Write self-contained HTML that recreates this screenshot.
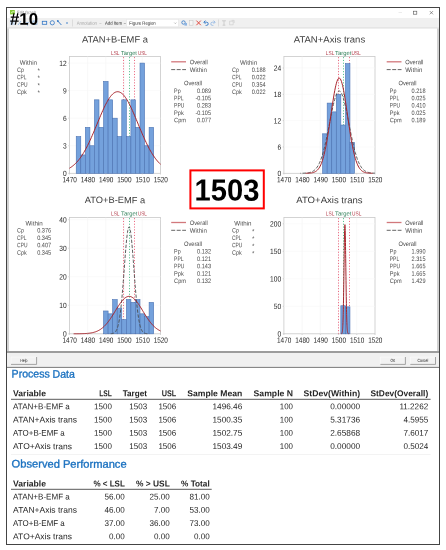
<!DOCTYPE html>
<html lang="en"><head><meta charset="utf-8"><title>#10 Edit Graph</title>
<style>html,body{margin:0;padding:0;background:#fff;}body{width:446px;height:550px;overflow:hidden;}svg{display:block;}</style>
</head><body>
<svg width="446" height="550" viewBox="0 0 446 550" text-rendering="geometricPrecision" font-family='"Liberation Sans", sans-serif'>
<rect width="446" height="550" fill="#ffffff"/>
<rect x="6.5" y="7.5" width="433" height="537" fill="#ffffff" stroke="#444444" stroke-width="1"/>
<rect x="7" y="18" width="432" height="10" fill="#f0f0f0"/>
<rect x="7" y="27.6" width="432" height="0.8" fill="#d4d4d4"/>
<rect x="7" y="28.4" width="2" height="323" fill="#d2d2d2"/>
<rect x="437" y="28.4" width="2" height="323" fill="#d2d2d2"/>
<rect x="7" y="351" width="432" height="2.0" fill="#9c9c9c"/>
<rect x="7" y="353" width="432" height="14.2" fill="#f0f0f0"/>
<rect x="7" y="366.9" width="432" height="0.9" fill="#6a6a6a"/>
<rect x="10" y="10" width="4.8" height="4.4" fill="#86cc35"/>
<path d="M11 13.2 L12.2 11.6 L13 12.4 L14 11" stroke="#e4f6cf" stroke-width="0.7" fill="none"/>
<text x="17.00" y="14.30" transform="rotate(0.05 17.0 14.3)" font-size="5" textLength="19.20" lengthAdjust="spacingAndGlyphs" fill="#8c8c8c">Edit Graph</text>
<rect x="398.5" y="12.3" width="3.5" height="0.5" fill="#d8d8d8"/>
<rect x="413.6" y="11.2" width="3.2" height="3" fill="none" stroke="#555" stroke-width="0.6"/>
<path d="M429.8 11.1 L433 14.3 M433 11.1 L429.8 14.3" stroke="#555" stroke-width="0.6" fill="none"/>
<rect x="10" y="20" width="4.6" height="5" fill="#cfe0f4"/>
<path d="M18 25 L21 21" stroke="#7aa7d8" stroke-width="0.7"/>
<text x="26" y="25.5" font-size="5" fill="#7aa7d8">T</text>
<rect x="33" y="21" width="4" height="3.6" fill="none" stroke="#7aa7d8" stroke-width="0.7"/>
<rect x="42.3" y="21.3" width="4.4" height="3" fill="none" stroke="#2f75c5" stroke-width="0.8"/>
<circle cx="52.3" cy="22.8" r="2.1" fill="none" stroke="#2f75c5" stroke-width="0.8"/>
<path d="M57.6 20.8 L61.4 25" stroke="#2f75c5" stroke-width="0.9"/>
<rect x="57" y="20.2" width="1.6" height="1.6" fill="#2f75c5"/>
<circle cx="67" cy="23" r="0.8" fill="#2f75c5"/>
<rect x="72.2" y="19.5" width="0.6" height="7" fill="#cfcfcf"/>
<text x="76.80" y="24.70" transform="rotate(0.05 76.8 24.7)" font-size="4.9" textLength="20.10" lengthAdjust="spacingAndGlyphs" fill="#a4a4a4">Annotation</text>
<path d="M99.4 23 l1 1 l1 -1" stroke="#a0a0a0" stroke-width="0.4" fill="none"/>
<text x="105.00" y="24.70" transform="rotate(0.05 105.0 24.7)" font-size="4.9" textLength="17.00" lengthAdjust="spacingAndGlyphs" fill="#262626">Add Item</text>
<path d="M123.8 23 l1 1 l1 -1" stroke="#555" stroke-width="0.4" fill="none"/>
<rect x="126.8" y="19.4" width="51.4" height="7.4" fill="#ffffff" stroke="#e2e2e2" stroke-width="0.4"/>
<text x="129.30" y="24.70" transform="rotate(0.05 129.3 24.7)" font-size="4.9" textLength="26.40" lengthAdjust="spacingAndGlyphs" fill="#262626">Figure Region</text>
<path d="M174.3 22.6 l1 1 l1 -1" stroke="#555" stroke-width="0.4" fill="none"/>
<circle cx="183.5" cy="22.5" r="1.7" fill="none" stroke="#2f75c5" stroke-width="0.8"/>
<rect x="184.4" y="23" width="2.6" height="2.6" fill="#8db4e2"/>
<rect x="189.6" y="20.4" width="3.4" height="4.8" fill="#f6f6f6" stroke="#c4c4c4" stroke-width="0.5"/>
<path d="M196.4 20.6 L200.8 25.2 M200.8 20.6 L196.4 25.2" stroke="#e03c31" stroke-width="0.9" fill="none"/>
<path d="M204.2 22.2 h2.4 a1.6 1.6 0 0 1 0 3.2 h-1" stroke="#2f75c5" stroke-width="0.9" fill="none"/>
<path d="M205.4 20.6 l-1.6 1.6 l1.6 1.6" stroke="#2f75c5" stroke-width="0.9" fill="none"/>
<path d="M214.8 22.2 h-2.4 a1.6 1.6 0 0 0 0 3.2 h1" stroke="#8db4e2" stroke-width="0.8" fill="none"/>
<path d="M213.6 20.6 l1.6 1.6 l-1.6 1.6" stroke="#8db4e2" stroke-width="0.8" fill="none"/>
<rect x="218.3" y="19.5" width="0.6" height="7" fill="#cfcfcf"/>
<path d="M222 20.8 h4 M224 20.8 v4.4 M222.6 25.2 h2.8" stroke="#b8b8b8" stroke-width="0.6" fill="none"/>
<path d="M229.6 21.2 h3.6 v3.6 h-3.6 z M231.6 20.4 h2.6 v2.6" stroke="#c4c4c4" stroke-width="0.5" fill="none"/>
<text x="10.00" y="24.80" transform="rotate(0.05 10.0 24.8)" font-size="16.8" font-weight="bold" textLength="28.00" lengthAdjust="spacingAndGlyphs" fill="#000000">#10</text>
<g>
<text x="81.95" y="42.40" transform="rotate(0.05 82.0 42.4)" font-size="9.2" textLength="66.00" lengthAdjust="spacingAndGlyphs" fill="#3a3a3a">ATAN+B-EMF a</text>
<rect x="69.40" y="56.50" width="91.10" height="116.80" fill="#ffffff" stroke="#c9c9c9" stroke-width="0.8"/>
<line x1="87.62" y1="56.50" x2="87.62" y2="173.30" stroke="#f4f4f4" stroke-width="0.6"/>
<line x1="105.84" y1="56.50" x2="105.84" y2="173.30" stroke="#f4f4f4" stroke-width="0.6"/>
<line x1="124.06" y1="56.50" x2="124.06" y2="173.30" stroke="#f4f4f4" stroke-width="0.6"/>
<line x1="142.28" y1="56.50" x2="142.28" y2="173.30" stroke="#f4f4f4" stroke-width="0.6"/>
<line x1="69.40" y1="145.75" x2="160.50" y2="145.75" stroke="#f6f6f6" stroke-width="0.6"/>
<line x1="69.40" y1="118.20" x2="160.50" y2="118.20" stroke="#f6f6f6" stroke-width="0.6"/>
<line x1="69.40" y1="90.65" x2="160.50" y2="90.65" stroke="#f6f6f6" stroke-width="0.6"/>
<line x1="69.40" y1="63.10" x2="160.50" y2="63.10" stroke="#f6f6f6" stroke-width="0.6"/>
<line x1="123.50" y1="57.10" x2="123.50" y2="173.30" stroke="#ec6a82" stroke-width="1" stroke-dasharray="1.1 1.7"/>
<line x1="129.50" y1="57.10" x2="129.50" y2="173.30" stroke="#55c08c" stroke-width="1" stroke-dasharray="1.1 1.7"/>
<line x1="134.50" y1="57.10" x2="134.50" y2="173.30" stroke="#ec6a82" stroke-width="1" stroke-dasharray="1.1 1.7"/>
<rect x="76.23" y="136.57" width="4.55" height="36.73" fill="#74a1dc" stroke="#4b72b2" stroke-width="0.6"/>
<rect x="80.79" y="154.93" width="4.55" height="18.37" fill="#74a1dc" stroke="#4b72b2" stroke-width="0.6"/>
<rect x="85.34" y="127.38" width="4.55" height="45.92" fill="#74a1dc" stroke="#4b72b2" stroke-width="0.6"/>
<rect x="89.90" y="145.75" width="4.55" height="27.55" fill="#74a1dc" stroke="#4b72b2" stroke-width="0.6"/>
<rect x="94.45" y="99.83" width="4.55" height="73.47" fill="#74a1dc" stroke="#4b72b2" stroke-width="0.6"/>
<rect x="99.01" y="127.38" width="4.55" height="45.92" fill="#74a1dc" stroke="#4b72b2" stroke-width="0.6"/>
<rect x="103.56" y="81.47" width="4.55" height="91.83" fill="#74a1dc" stroke="#4b72b2" stroke-width="0.6"/>
<rect x="108.12" y="99.83" width="4.55" height="73.47" fill="#74a1dc" stroke="#4b72b2" stroke-width="0.6"/>
<rect x="112.67" y="118.20" width="4.55" height="55.10" fill="#74a1dc" stroke="#4b72b2" stroke-width="0.6"/>
<rect x="117.23" y="136.57" width="4.55" height="36.73" fill="#74a1dc" stroke="#4b72b2" stroke-width="0.6"/>
<rect x="121.78" y="99.83" width="4.55" height="73.47" fill="#74a1dc" stroke="#4b72b2" stroke-width="0.6"/>
<rect x="126.34" y="136.57" width="4.55" height="36.73" fill="#74a1dc" stroke="#4b72b2" stroke-width="0.6"/>
<rect x="130.89" y="99.83" width="4.55" height="73.47" fill="#74a1dc" stroke="#4b72b2" stroke-width="0.6"/>
<rect x="135.45" y="127.38" width="4.55" height="45.92" fill="#74a1dc" stroke="#4b72b2" stroke-width="0.6"/>
<rect x="140.00" y="63.10" width="4.55" height="110.20" fill="#74a1dc" stroke="#4b72b2" stroke-width="0.6"/>
<rect x="144.56" y="145.75" width="4.55" height="27.55" fill="#74a1dc" stroke="#4b72b2" stroke-width="0.6"/>
<rect x="149.11" y="127.38" width="4.55" height="45.92" fill="#74a1dc" stroke="#4b72b2" stroke-width="0.6"/>
<polyline points="69.40,168.23 70.16,167.77 70.92,167.27 71.68,166.75 72.44,166.18 73.20,165.58 73.96,164.93 74.71,164.25 75.47,163.53 76.23,162.76 76.99,161.94 77.75,161.08 78.51,160.17 79.27,159.22 80.03,158.22 80.79,157.16 81.55,156.06 82.31,154.90 83.06,153.70 83.82,152.45 84.58,151.14 85.34,149.79 86.10,148.39 86.86,146.94 87.62,145.45 88.38,143.91 89.14,142.34 89.90,140.72 90.66,139.06 91.42,137.37 92.18,135.64 92.93,133.89 93.69,132.12 94.45,130.32 95.21,128.51 95.97,126.68 96.73,124.85 97.49,123.01 98.25,121.18 99.01,119.35 99.77,117.53 100.53,115.74 101.28,113.97 102.04,112.23 102.80,110.52 103.56,108.85 104.32,107.24 105.08,105.67 105.84,104.16 106.60,102.72 107.36,101.34 108.12,100.04 108.88,98.82 109.64,97.68 110.40,96.63 111.15,95.68 111.91,94.82 112.67,94.06 113.43,93.40 114.19,92.85 114.95,92.40 115.71,92.07 116.47,91.84 117.23,91.73 117.99,91.73 118.75,91.84 119.50,92.06 120.26,92.40 121.02,92.84 121.78,93.39 122.54,94.05 123.30,94.81 124.06,95.67 124.82,96.63 125.58,97.68 126.34,98.81 127.10,100.03 127.86,101.33 128.62,102.71 129.37,104.15 130.13,105.66 130.89,107.22 131.65,108.84 132.41,110.51 133.17,112.21 133.93,113.95 134.69,115.72 135.45,117.52 136.21,119.33 136.97,121.16 137.72,122.99 138.48,124.83 139.24,126.66 140.00,128.49 140.76,130.30 141.52,132.10 142.28,133.88 143.04,135.63 143.80,137.35 144.56,139.05 145.32,140.70 146.08,142.32 146.83,143.90 147.59,145.44 148.35,146.93 149.11,148.38 149.87,149.78 150.63,151.13 151.39,152.44 152.15,153.69 152.91,154.90 153.67,156.05 154.43,157.15 155.19,158.21 155.94,159.21 156.70,160.17 157.46,161.07 158.22,161.94 158.98,162.75 159.74,163.52 160.50,164.25" fill="none" stroke="#a8242c" stroke-width="1.0"/>
<line x1="68.20" y1="173.30" x2="69.40" y2="173.30" stroke="#bdbdbd" stroke-width="0.6"/>
<text x="63.00" y="176.10" transform="rotate(0.05 63.0 176.1)" font-size="7.7" textLength="3.70" lengthAdjust="spacingAndGlyphs" fill="#262626">0</text>
<line x1="68.20" y1="145.75" x2="69.40" y2="145.75" stroke="#bdbdbd" stroke-width="0.6"/>
<text x="63.00" y="148.55" transform="rotate(0.05 63.0 148.6)" font-size="7.7" textLength="3.70" lengthAdjust="spacingAndGlyphs" fill="#262626">3</text>
<line x1="68.20" y1="118.20" x2="69.40" y2="118.20" stroke="#bdbdbd" stroke-width="0.6"/>
<text x="63.00" y="121.00" transform="rotate(0.05 63.0 121.0)" font-size="7.7" textLength="3.70" lengthAdjust="spacingAndGlyphs" fill="#262626">6</text>
<line x1="68.20" y1="90.65" x2="69.40" y2="90.65" stroke="#bdbdbd" stroke-width="0.6"/>
<text x="63.00" y="93.45" transform="rotate(0.05 63.0 93.4)" font-size="7.7" textLength="3.70" lengthAdjust="spacingAndGlyphs" fill="#262626">9</text>
<line x1="68.20" y1="63.10" x2="69.40" y2="63.10" stroke="#bdbdbd" stroke-width="0.6"/>
<text x="59.30" y="65.90" transform="rotate(0.05 59.3 65.9)" font-size="7.7" textLength="7.40" lengthAdjust="spacingAndGlyphs" fill="#262626">12</text>
<line x1="69.40" y1="173.30" x2="69.40" y2="174.50" stroke="#bdbdbd" stroke-width="0.6"/>
<text x="62.55" y="182.20" transform="rotate(0.05 62.6 182.2)" font-size="7.7" textLength="14.30" lengthAdjust="spacingAndGlyphs" fill="#262626">1470</text>
<line x1="87.62" y1="173.30" x2="87.62" y2="174.50" stroke="#bdbdbd" stroke-width="0.6"/>
<text x="80.77" y="182.20" transform="rotate(0.05 80.8 182.2)" font-size="7.7" textLength="14.30" lengthAdjust="spacingAndGlyphs" fill="#262626">1480</text>
<line x1="105.84" y1="173.30" x2="105.84" y2="174.50" stroke="#bdbdbd" stroke-width="0.6"/>
<text x="98.99" y="182.20" transform="rotate(0.05 99.0 182.2)" font-size="7.7" textLength="14.30" lengthAdjust="spacingAndGlyphs" fill="#262626">1490</text>
<line x1="124.06" y1="173.30" x2="124.06" y2="174.50" stroke="#bdbdbd" stroke-width="0.6"/>
<text x="117.21" y="182.20" transform="rotate(0.05 117.2 182.2)" font-size="7.7" textLength="14.30" lengthAdjust="spacingAndGlyphs" fill="#262626">1500</text>
<line x1="142.28" y1="173.30" x2="142.28" y2="174.50" stroke="#bdbdbd" stroke-width="0.6"/>
<text x="135.43" y="182.20" transform="rotate(0.05 135.4 182.2)" font-size="7.7" textLength="14.30" lengthAdjust="spacingAndGlyphs" fill="#262626">1510</text>
<line x1="160.50" y1="173.30" x2="160.50" y2="174.50" stroke="#bdbdbd" stroke-width="0.6"/>
<text x="153.65" y="182.20" transform="rotate(0.05 153.7 182.2)" font-size="7.7" textLength="14.30" lengthAdjust="spacingAndGlyphs" fill="#262626">1520</text>
<text x="111.00" y="54.90" transform="rotate(0.05 111.0 54.9)" font-size="5.9" textLength="8.50" lengthAdjust="spacingAndGlyphs" fill="#b5404e">LSL</text>
<text x="121.00" y="54.90" transform="rotate(0.05 121.0 54.9)" font-size="5.9" textLength="15.90" lengthAdjust="spacingAndGlyphs" fill="#2f7f58">Target</text>
<text x="137.90" y="54.90" transform="rotate(0.05 137.9 54.9)" font-size="5.9" textLength="8.80" lengthAdjust="spacingAndGlyphs" fill="#b5404e">USL</text>
<text x="19.80" y="64.70" transform="rotate(0.05 19.8 64.7)" font-size="6.4" textLength="17.20" lengthAdjust="spacingAndGlyphs" fill="#4a4a4a">Within</text>
<text x="17.10" y="71.90" transform="rotate(0.05 17.1 71.9)" font-size="6.4" textLength="6.90" lengthAdjust="spacingAndGlyphs" fill="#4a4a4a">Cp</text>
<text x="37.40" y="72.70" transform="rotate(0.05 37.4 72.7)" font-size="6.4" fill="#4a4a4a">*</text>
<text x="17.10" y="79.27" transform="rotate(0.05 17.1 79.3)" font-size="6.4" textLength="9.40" lengthAdjust="spacingAndGlyphs" fill="#4a4a4a">CPL</text>
<text x="37.40" y="80.07" transform="rotate(0.05 37.4 80.1)" font-size="6.4" fill="#4a4a4a">*</text>
<text x="17.10" y="86.64" transform="rotate(0.05 17.1 86.6)" font-size="6.4" textLength="10.40" lengthAdjust="spacingAndGlyphs" fill="#4a4a4a">CPU</text>
<text x="37.40" y="87.44" transform="rotate(0.05 37.4 87.4)" font-size="6.4" fill="#4a4a4a">*</text>
<text x="17.10" y="94.01" transform="rotate(0.05 17.1 94.0)" font-size="6.4" textLength="9.70" lengthAdjust="spacingAndGlyphs" fill="#4a4a4a">Cpk</text>
<text x="37.40" y="94.81" transform="rotate(0.05 37.4 94.8)" font-size="6.4" fill="#4a4a4a">*</text>
<line x1="171.20" y1="61.80" x2="186.00" y2="61.80" stroke="#d2787c" stroke-width="1.3"/>
<line x1="171.20" y1="69.60" x2="186.00" y2="69.60" stroke="#555" stroke-width="0.9" stroke-dasharray="4 1.5"/>
<text x="189.80" y="64.30" transform="rotate(0.05 189.8 64.3)" font-size="6.4" textLength="18.10" lengthAdjust="spacingAndGlyphs" fill="#4a4a4a">Overall</text>
<text x="189.80" y="72.10" transform="rotate(0.05 189.8 72.1)" font-size="6.4" textLength="17.00" lengthAdjust="spacingAndGlyphs" fill="#4a4a4a">Within</text>
<text x="183.95" y="85.20" transform="rotate(0.05 183.9 85.2)" font-size="6.4" textLength="18.10" lengthAdjust="spacingAndGlyphs" fill="#4a4a4a">Overall</text>
<text x="174.10" y="92.90" transform="rotate(0.05 174.1 92.9)" font-size="6.4" textLength="6.60" lengthAdjust="spacingAndGlyphs" fill="#4a4a4a">Pp</text>
<text x="197.10" y="92.90" transform="rotate(0.05 197.1 92.9)" font-size="6.4" textLength="13.90" lengthAdjust="spacingAndGlyphs" fill="#4a4a4a">0.089</text>
<text x="174.10" y="100.25" transform="rotate(0.05 174.1 100.2)" font-size="6.4" textLength="9.40" lengthAdjust="spacingAndGlyphs" fill="#4a4a4a">PPL</text>
<text x="195.40" y="100.25" transform="rotate(0.05 195.4 100.2)" font-size="6.4" textLength="15.60" lengthAdjust="spacingAndGlyphs" fill="#4a4a4a">-0.105</text>
<text x="174.10" y="107.60" transform="rotate(0.05 174.1 107.6)" font-size="6.4" textLength="10.40" lengthAdjust="spacingAndGlyphs" fill="#4a4a4a">PPU</text>
<text x="197.10" y="107.60" transform="rotate(0.05 197.1 107.6)" font-size="6.4" textLength="13.90" lengthAdjust="spacingAndGlyphs" fill="#4a4a4a">0.283</text>
<text x="174.10" y="114.95" transform="rotate(0.05 174.1 115.0)" font-size="6.4" textLength="9.70" lengthAdjust="spacingAndGlyphs" fill="#4a4a4a">Ppk</text>
<text x="195.40" y="114.95" transform="rotate(0.05 195.4 115.0)" font-size="6.4" textLength="15.60" lengthAdjust="spacingAndGlyphs" fill="#4a4a4a">-0.105</text>
<text x="174.10" y="122.30" transform="rotate(0.05 174.1 122.3)" font-size="6.4" textLength="11.80" lengthAdjust="spacingAndGlyphs" fill="#4a4a4a">Cpm</text>
<text x="197.10" y="122.30" transform="rotate(0.05 197.1 122.3)" font-size="6.4" textLength="13.90" lengthAdjust="spacingAndGlyphs" fill="#4a4a4a">0.077</text>
</g>
<g>
<text x="293.75" y="42.40" transform="rotate(0.05 293.8 42.4)" font-size="9.2" textLength="71.40" lengthAdjust="spacingAndGlyphs" fill="#3a3a3a">ATAN+Axis trans</text>
<rect x="283.90" y="56.50" width="91.10" height="116.80" fill="#ffffff" stroke="#c9c9c9" stroke-width="0.8"/>
<line x1="302.12" y1="56.50" x2="302.12" y2="173.30" stroke="#f4f4f4" stroke-width="0.6"/>
<line x1="320.34" y1="56.50" x2="320.34" y2="173.30" stroke="#f4f4f4" stroke-width="0.6"/>
<line x1="338.56" y1="56.50" x2="338.56" y2="173.30" stroke="#f4f4f4" stroke-width="0.6"/>
<line x1="356.78" y1="56.50" x2="356.78" y2="173.30" stroke="#f4f4f4" stroke-width="0.6"/>
<line x1="283.90" y1="146.98" x2="375.00" y2="146.98" stroke="#f6f6f6" stroke-width="0.6"/>
<line x1="283.90" y1="120.65" x2="375.00" y2="120.65" stroke="#f6f6f6" stroke-width="0.6"/>
<line x1="283.90" y1="94.33" x2="375.00" y2="94.33" stroke="#f6f6f6" stroke-width="0.6"/>
<line x1="283.90" y1="68.00" x2="375.00" y2="68.00" stroke="#f6f6f6" stroke-width="0.6"/>
<line x1="338.50" y1="57.10" x2="338.50" y2="173.30" stroke="#ec6a82" stroke-width="1" stroke-dasharray="1.1 1.7"/>
<line x1="343.50" y1="57.10" x2="343.50" y2="173.30" stroke="#55c08c" stroke-width="1" stroke-dasharray="1.1 1.7"/>
<line x1="349.50" y1="57.10" x2="349.50" y2="173.30" stroke="#ec6a82" stroke-width="1" stroke-dasharray="1.1 1.7"/>
<rect x="322.62" y="133.81" width="4.56" height="39.49" fill="#74a1dc" stroke="#4b72b2" stroke-width="0.6"/>
<rect x="327.17" y="103.10" width="4.56" height="70.20" fill="#74a1dc" stroke="#4b72b2" stroke-width="0.6"/>
<rect x="331.73" y="111.88" width="4.56" height="61.43" fill="#74a1dc" stroke="#4b72b2" stroke-width="0.6"/>
<rect x="336.28" y="94.33" width="4.56" height="78.98" fill="#74a1dc" stroke="#4b72b2" stroke-width="0.6"/>
<rect x="340.84" y="125.04" width="4.56" height="48.26" fill="#74a1dc" stroke="#4b72b2" stroke-width="0.6"/>
<rect x="345.39" y="63.61" width="4.56" height="109.69" fill="#74a1dc" stroke="#4b72b2" stroke-width="0.6"/>
<rect x="349.95" y="142.59" width="4.56" height="30.71" fill="#74a1dc" stroke="#4b72b2" stroke-width="0.6"/>
<polyline points="339.20,91.01 338.55,91.19 337.91,91.73 337.26,92.63 336.61,93.88 335.97,95.45 335.32,97.33 334.68,99.50 334.03,101.92 333.38,104.56 332.74,107.40 332.09,110.41 331.45,113.54 330.80,116.77 330.16,120.06 329.51,123.39 328.86,126.71 328.22,130.00 327.57,133.24 326.93,136.40 326.28,139.47 325.63,142.41 324.99,145.23 324.34,147.90 323.70,150.42 323.05,152.78 322.40,154.98 321.76,157.01 321.11,158.89 320.47,160.60 319.82,162.16 319.18,163.57 318.53,164.85 317.88,165.98 317.24,166.99 316.59,167.89 315.95,168.68 315.30,169.37 314.65,169.98 314.01,170.50 313.36,170.95 312.72,171.34 312.07,171.67 311.42,171.95 310.78,172.19 310.13,172.39 309.49,172.55 308.84,172.69 308.20,172.81 307.55,172.90 306.90,172.98 306.26,173.05 305.61,173.10 304.97,173.14 304.32,173.17 303.67,173.20 303.03,173.22 302.38,173.24 301.74,173.25 301.09,173.26 300.44,173.27" fill="none" stroke="#4d4d4d" stroke-width="0.9" stroke-dasharray="3.4 1.6" stroke-dashoffset="1.7"/>
<polyline points="339.20,91.01 339.79,91.16 340.39,91.63 340.99,92.40 341.58,93.47 342.18,94.82 342.78,96.44 343.37,98.31 343.97,100.41 344.57,102.73 345.16,105.22 345.76,107.88 346.36,110.67 346.95,113.57 347.55,116.56 348.15,119.59 348.74,122.66 349.34,125.73 349.94,128.79 350.54,131.80 351.13,134.76 351.73,137.65 352.33,140.44 352.92,143.13 353.52,145.70 354.12,148.15 354.71,150.47 355.31,152.65 355.91,154.70 356.50,156.60 357.10,158.37 357.70,160.00 358.29,161.50 358.89,162.87 359.49,164.11 360.08,165.24 360.68,166.26 361.28,167.17 361.87,167.98 362.47,168.70 363.07,169.34 363.66,169.91 364.26,170.40 364.86,170.83 365.45,171.21 366.05,171.53 366.65,171.81 367.24,172.05 367.84,172.26 368.44,172.43 369.03,172.58 369.63,172.71 370.23,172.81 370.82,172.90 371.42,172.97 372.02,173.03 372.61,173.09 373.21,173.13 373.81,173.16 374.40,173.19 375.00,173.21" fill="none" stroke="#4d4d4d" stroke-width="0.9" stroke-dasharray="3.4 1.6" stroke-dashoffset="1.7"/>
<polyline points="305.71,173.27 306.26,173.26 306.82,173.25 307.38,173.23 307.94,173.21 308.50,173.19 309.05,173.15 309.61,173.11 310.17,173.07 310.73,173.01 311.29,172.93 311.85,172.84 312.40,172.73 312.96,172.60 313.52,172.44 314.08,172.24 314.64,172.01 315.20,171.74 315.75,171.41 316.31,171.03 316.87,170.58 317.43,170.06 317.99,169.45 318.54,168.76 319.10,167.95 319.66,167.04 320.22,166.00 320.78,164.83 321.34,163.52 321.89,162.05 322.45,160.41 323.01,158.61 323.57,156.62 324.13,154.46 324.68,152.10 325.24,149.56 325.80,146.82 326.36,143.91 326.92,140.82 327.48,137.56 328.03,134.15 328.59,130.61 329.15,126.95 329.71,123.20 330.27,119.39 330.82,115.55 331.38,111.70 331.94,107.89 332.50,104.16 333.06,100.53 333.62,97.05 334.17,93.76 334.73,90.70 335.29,87.90 335.85,85.40 336.41,83.22 336.96,81.40 337.52,79.96 338.08,78.92 338.64,78.29 339.20,78.08 339.76,78.29 340.31,78.92 340.87,79.96 341.43,81.40 341.99,83.22 342.55,85.40 343.11,87.90 343.66,90.70 344.22,93.76 344.78,97.05 345.34,100.53 345.90,104.16 346.45,107.89 347.01,111.70 347.57,115.55 348.13,119.39 348.69,123.20 349.25,126.95 349.80,130.61 350.36,134.15 350.92,137.56 351.48,140.82 352.04,143.91 352.59,146.82 353.15,149.56 353.71,152.10 354.27,154.46 354.83,156.62 355.39,158.61 355.94,160.41 356.50,162.05 357.06,163.52 357.62,164.83 358.18,166.00 358.73,167.04 359.29,167.95 359.85,168.76 360.41,169.45 360.97,170.06 361.53,170.58 362.08,171.03 362.64,171.41 363.20,171.74 363.76,172.01 364.32,172.24 364.87,172.44 365.43,172.60 365.99,172.73 366.55,172.84 367.11,172.93 367.67,173.01 368.22,173.07 368.78,173.11 369.34,173.15 369.90,173.19 370.46,173.21 371.02,173.23 371.57,173.25 372.13,173.26 372.69,173.27" fill="none" stroke="#a8242c" stroke-width="1.0"/>
<line x1="282.70" y1="173.30" x2="283.90" y2="173.30" stroke="#bdbdbd" stroke-width="0.6"/>
<text x="277.50" y="176.10" transform="rotate(0.05 277.5 176.1)" font-size="7.7" textLength="3.70" lengthAdjust="spacingAndGlyphs" fill="#262626">0</text>
<line x1="282.70" y1="146.98" x2="283.90" y2="146.98" stroke="#bdbdbd" stroke-width="0.6"/>
<text x="277.50" y="149.78" transform="rotate(0.05 277.5 149.8)" font-size="7.7" textLength="3.70" lengthAdjust="spacingAndGlyphs" fill="#262626">6</text>
<line x1="282.70" y1="120.65" x2="283.90" y2="120.65" stroke="#bdbdbd" stroke-width="0.6"/>
<text x="273.80" y="123.45" transform="rotate(0.05 273.8 123.5)" font-size="7.7" textLength="7.40" lengthAdjust="spacingAndGlyphs" fill="#262626">12</text>
<line x1="282.70" y1="94.33" x2="283.90" y2="94.33" stroke="#bdbdbd" stroke-width="0.6"/>
<text x="273.80" y="97.12" transform="rotate(0.05 273.8 97.1)" font-size="7.7" textLength="7.40" lengthAdjust="spacingAndGlyphs" fill="#262626">18</text>
<line x1="282.70" y1="68.00" x2="283.90" y2="68.00" stroke="#bdbdbd" stroke-width="0.6"/>
<text x="273.80" y="70.80" transform="rotate(0.05 273.8 70.8)" font-size="7.7" textLength="7.40" lengthAdjust="spacingAndGlyphs" fill="#262626">24</text>
<line x1="283.90" y1="173.30" x2="283.90" y2="174.50" stroke="#bdbdbd" stroke-width="0.6"/>
<text x="277.05" y="182.20" transform="rotate(0.05 277.1 182.2)" font-size="7.7" textLength="14.30" lengthAdjust="spacingAndGlyphs" fill="#262626">1470</text>
<line x1="302.12" y1="173.30" x2="302.12" y2="174.50" stroke="#bdbdbd" stroke-width="0.6"/>
<text x="295.27" y="182.20" transform="rotate(0.05 295.3 182.2)" font-size="7.7" textLength="14.30" lengthAdjust="spacingAndGlyphs" fill="#262626">1480</text>
<line x1="320.34" y1="173.30" x2="320.34" y2="174.50" stroke="#bdbdbd" stroke-width="0.6"/>
<text x="313.49" y="182.20" transform="rotate(0.05 313.5 182.2)" font-size="7.7" textLength="14.30" lengthAdjust="spacingAndGlyphs" fill="#262626">1490</text>
<line x1="338.56" y1="173.30" x2="338.56" y2="174.50" stroke="#bdbdbd" stroke-width="0.6"/>
<text x="331.71" y="182.20" transform="rotate(0.05 331.7 182.2)" font-size="7.7" textLength="14.30" lengthAdjust="spacingAndGlyphs" fill="#262626">1500</text>
<line x1="356.78" y1="173.30" x2="356.78" y2="174.50" stroke="#bdbdbd" stroke-width="0.6"/>
<text x="349.93" y="182.20" transform="rotate(0.05 349.9 182.2)" font-size="7.7" textLength="14.30" lengthAdjust="spacingAndGlyphs" fill="#262626">1510</text>
<line x1="375.00" y1="173.30" x2="375.00" y2="174.50" stroke="#bdbdbd" stroke-width="0.6"/>
<text x="368.15" y="182.20" transform="rotate(0.05 368.2 182.2)" font-size="7.7" textLength="14.30" lengthAdjust="spacingAndGlyphs" fill="#262626">1520</text>
<text x="325.80" y="54.90" transform="rotate(0.05 325.8 54.9)" font-size="5.9" textLength="8.50" lengthAdjust="spacingAndGlyphs" fill="#b5404e">LSL</text>
<text x="335.00" y="54.90" transform="rotate(0.05 335.0 54.9)" font-size="5.9" textLength="16.40" lengthAdjust="spacingAndGlyphs" fill="#2f7f58">Target</text>
<text x="351.40" y="54.90" transform="rotate(0.05 351.4 54.9)" font-size="5.9" textLength="9.30" lengthAdjust="spacingAndGlyphs" fill="#b5404e">USL</text>
<text x="240.00" y="64.70" transform="rotate(0.05 240.0 64.7)" font-size="6.4" textLength="17.20" lengthAdjust="spacingAndGlyphs" fill="#4a4a4a">Within</text>
<text x="232.00" y="71.90" transform="rotate(0.05 232.0 71.9)" font-size="6.4" textLength="6.90" lengthAdjust="spacingAndGlyphs" fill="#4a4a4a">Cp</text>
<text x="251.70" y="71.90" transform="rotate(0.05 251.7 71.9)" font-size="6.4" textLength="14.00" lengthAdjust="spacingAndGlyphs" fill="#4a4a4a">0.188</text>
<text x="232.00" y="79.27" transform="rotate(0.05 232.0 79.3)" font-size="6.4" textLength="9.40" lengthAdjust="spacingAndGlyphs" fill="#4a4a4a">CPL</text>
<text x="251.70" y="79.27" transform="rotate(0.05 251.7 79.3)" font-size="6.4" textLength="14.00" lengthAdjust="spacingAndGlyphs" fill="#4a4a4a">0.022</text>
<text x="232.00" y="86.64" transform="rotate(0.05 232.0 86.6)" font-size="6.4" textLength="10.40" lengthAdjust="spacingAndGlyphs" fill="#4a4a4a">CPU</text>
<text x="251.70" y="86.64" transform="rotate(0.05 251.7 86.6)" font-size="6.4" textLength="14.00" lengthAdjust="spacingAndGlyphs" fill="#4a4a4a">0.354</text>
<text x="232.00" y="94.01" transform="rotate(0.05 232.0 94.0)" font-size="6.4" textLength="9.70" lengthAdjust="spacingAndGlyphs" fill="#4a4a4a">Cpk</text>
<text x="251.70" y="94.01" transform="rotate(0.05 251.7 94.0)" font-size="6.4" textLength="14.00" lengthAdjust="spacingAndGlyphs" fill="#4a4a4a">0.022</text>
<line x1="386.70" y1="61.80" x2="401.50" y2="61.80" stroke="#d2787c" stroke-width="1.3"/>
<line x1="386.70" y1="69.60" x2="401.50" y2="69.60" stroke="#555" stroke-width="0.9" stroke-dasharray="4 1.5"/>
<text x="405.30" y="64.30" transform="rotate(0.05 405.3 64.3)" font-size="6.4" textLength="18.10" lengthAdjust="spacingAndGlyphs" fill="#4a4a4a">Overall</text>
<text x="405.30" y="72.10" transform="rotate(0.05 405.3 72.1)" font-size="6.4" textLength="17.00" lengthAdjust="spacingAndGlyphs" fill="#4a4a4a">Within</text>
<text x="398.45" y="85.20" transform="rotate(0.05 398.4 85.2)" font-size="6.4" textLength="18.10" lengthAdjust="spacingAndGlyphs" fill="#4a4a4a">Overall</text>
<text x="389.80" y="92.90" transform="rotate(0.05 389.8 92.9)" font-size="6.4" textLength="6.60" lengthAdjust="spacingAndGlyphs" fill="#4a4a4a">Pp</text>
<text x="411.60" y="92.90" transform="rotate(0.05 411.6 92.9)" font-size="6.4" textLength="13.90" lengthAdjust="spacingAndGlyphs" fill="#4a4a4a">0.218</text>
<text x="389.80" y="100.25" transform="rotate(0.05 389.8 100.2)" font-size="6.4" textLength="9.40" lengthAdjust="spacingAndGlyphs" fill="#4a4a4a">PPL</text>
<text x="411.60" y="100.25" transform="rotate(0.05 411.6 100.2)" font-size="6.4" textLength="13.90" lengthAdjust="spacingAndGlyphs" fill="#4a4a4a">0.025</text>
<text x="389.80" y="107.60" transform="rotate(0.05 389.8 107.6)" font-size="6.4" textLength="10.40" lengthAdjust="spacingAndGlyphs" fill="#4a4a4a">PPU</text>
<text x="411.60" y="107.60" transform="rotate(0.05 411.6 107.6)" font-size="6.4" textLength="13.90" lengthAdjust="spacingAndGlyphs" fill="#4a4a4a">0.410</text>
<text x="389.80" y="114.95" transform="rotate(0.05 389.8 115.0)" font-size="6.4" textLength="9.70" lengthAdjust="spacingAndGlyphs" fill="#4a4a4a">Ppk</text>
<text x="411.60" y="114.95" transform="rotate(0.05 411.6 115.0)" font-size="6.4" textLength="13.90" lengthAdjust="spacingAndGlyphs" fill="#4a4a4a">0.025</text>
<text x="389.80" y="122.30" transform="rotate(0.05 389.8 122.3)" font-size="6.4" textLength="11.80" lengthAdjust="spacingAndGlyphs" fill="#4a4a4a">Cpm</text>
<text x="411.60" y="122.30" transform="rotate(0.05 411.6 122.3)" font-size="6.4" textLength="13.90" lengthAdjust="spacingAndGlyphs" fill="#4a4a4a">0.189</text>
</g>
<g>
<text x="84.80" y="203.10" transform="rotate(0.05 84.8 203.1)" font-size="9.2" textLength="60.30" lengthAdjust="spacingAndGlyphs" fill="#3a3a3a">ATO+B-EMF a</text>
<rect x="69.40" y="217.50" width="91.10" height="116.30" fill="#ffffff" stroke="#c9c9c9" stroke-width="0.8"/>
<line x1="87.62" y1="217.50" x2="87.62" y2="333.80" stroke="#f4f4f4" stroke-width="0.6"/>
<line x1="105.84" y1="217.50" x2="105.84" y2="333.80" stroke="#f4f4f4" stroke-width="0.6"/>
<line x1="124.06" y1="217.50" x2="124.06" y2="333.80" stroke="#f4f4f4" stroke-width="0.6"/>
<line x1="142.28" y1="217.50" x2="142.28" y2="333.80" stroke="#f4f4f4" stroke-width="0.6"/>
<line x1="69.40" y1="305.27" x2="160.50" y2="305.27" stroke="#f6f6f6" stroke-width="0.6"/>
<line x1="69.40" y1="276.75" x2="160.50" y2="276.75" stroke="#f6f6f6" stroke-width="0.6"/>
<line x1="69.40" y1="248.22" x2="160.50" y2="248.22" stroke="#f6f6f6" stroke-width="0.6"/>
<line x1="69.40" y1="219.70" x2="160.50" y2="219.70" stroke="#f6f6f6" stroke-width="0.6"/>
<line x1="123.50" y1="218.10" x2="123.50" y2="333.80" stroke="#ec6a82" stroke-width="1" stroke-dasharray="1.1 1.7"/>
<line x1="129.50" y1="218.10" x2="129.50" y2="333.80" stroke="#55c08c" stroke-width="1" stroke-dasharray="1.1 1.7"/>
<line x1="134.50" y1="218.10" x2="134.50" y2="333.80" stroke="#ec6a82" stroke-width="1" stroke-dasharray="1.1 1.7"/>
<rect x="103.56" y="310.98" width="4.55" height="22.82" fill="#74a1dc" stroke="#4b72b2" stroke-width="0.6"/>
<rect x="108.12" y="313.83" width="4.55" height="19.97" fill="#74a1dc" stroke="#4b72b2" stroke-width="0.6"/>
<rect x="112.67" y="299.57" width="4.55" height="34.23" fill="#74a1dc" stroke="#4b72b2" stroke-width="0.6"/>
<rect x="117.23" y="308.13" width="4.55" height="25.67" fill="#74a1dc" stroke="#4b72b2" stroke-width="0.6"/>
<rect x="121.78" y="319.54" width="4.55" height="14.26" fill="#74a1dc" stroke="#4b72b2" stroke-width="0.6"/>
<rect x="126.34" y="299.57" width="4.55" height="34.23" fill="#74a1dc" stroke="#4b72b2" stroke-width="0.6"/>
<rect x="130.89" y="302.42" width="4.55" height="31.38" fill="#74a1dc" stroke="#4b72b2" stroke-width="0.6"/>
<rect x="135.45" y="299.57" width="4.55" height="34.23" fill="#74a1dc" stroke="#4b72b2" stroke-width="0.6"/>
<rect x="140.00" y="313.83" width="4.55" height="19.97" fill="#74a1dc" stroke="#4b72b2" stroke-width="0.6"/>
<rect x="144.56" y="316.68" width="4.55" height="17.12" fill="#74a1dc" stroke="#4b72b2" stroke-width="0.6"/>
<rect x="149.11" y="302.42" width="4.55" height="31.38" fill="#74a1dc" stroke="#4b72b2" stroke-width="0.6"/>
<polyline points="129.07,226.79 128.75,227.03 128.42,227.74 128.10,228.91 127.78,230.53 127.46,232.58 127.13,235.02 126.81,237.83 126.49,240.98 126.16,244.42 125.84,248.12 125.52,252.02 125.20,256.10 124.87,260.30 124.55,264.58 124.23,268.90 123.90,273.22 123.58,277.50 123.26,281.71 122.93,285.83 122.61,289.81 122.29,293.64 121.97,297.30 121.64,300.77 121.32,304.05 121.00,307.12 120.67,309.98 120.35,312.62 120.03,315.06 119.71,317.29 119.38,319.32 119.06,321.15 118.74,322.81 118.41,324.28 118.09,325.60 117.77,326.77 117.44,327.79 117.12,328.69 116.80,329.48 116.48,330.16 116.15,330.74 115.83,331.25 115.51,331.68 115.18,332.04 114.86,332.35 114.54,332.61 114.22,332.83 113.89,333.01 113.57,333.16 113.25,333.28 112.92,333.39 112.60,333.47 112.28,333.54 111.95,333.59 111.63,333.64 111.31,333.67 110.99,333.70 110.66,333.72 110.34,333.74 110.02,333.75 109.69,333.76" fill="none" stroke="#4d4d4d" stroke-width="0.9" stroke-dasharray="3.4 1.6" stroke-dashoffset="1.7"/>
<polyline points="129.07,226.79 129.39,227.03 129.72,227.74 130.04,228.91 130.36,230.53 130.69,232.58 131.01,235.02 131.33,237.83 131.65,240.98 131.98,244.42 132.30,248.12 132.62,252.02 132.95,256.10 133.27,260.30 133.59,264.58 133.91,268.90 134.24,273.22 134.56,277.50 134.88,281.71 135.21,285.83 135.53,289.81 135.85,293.64 136.18,297.30 136.50,300.77 136.82,304.05 137.14,307.12 137.47,309.98 137.79,312.62 138.11,315.06 138.44,317.29 138.76,319.32 139.08,321.15 139.40,322.81 139.73,324.28 140.05,325.60 140.37,326.77 140.70,327.79 141.02,328.69 141.34,329.48 141.67,330.16 141.99,330.74 142.31,331.25 142.63,331.68 142.96,332.04 143.28,332.35 143.60,332.61 143.93,332.83 144.25,333.01 144.57,333.16 144.89,333.28 145.22,333.39 145.54,333.47 145.86,333.54 146.19,333.59 146.51,333.64 146.83,333.67 147.16,333.70 147.48,333.72 147.80,333.74 148.12,333.75 148.45,333.76" fill="none" stroke="#4d4d4d" stroke-width="0.9" stroke-dasharray="3.4 1.6" stroke-dashoffset="1.7"/>
<polyline points="73.67,333.79 74.39,333.78 75.12,333.78 75.84,333.78 76.56,333.77 77.29,333.77 78.01,333.76 78.73,333.75 79.46,333.74 80.18,333.73 80.91,333.71 81.63,333.69 82.35,333.67 83.08,333.65 83.80,333.62 84.52,333.59 85.25,333.55 85.97,333.50 86.69,333.45 87.42,333.39 88.14,333.32 88.86,333.25 89.59,333.16 90.31,333.05 91.04,332.94 91.76,332.81 92.48,332.66 93.21,332.49 93.93,332.30 94.65,332.09 95.38,331.86 96.10,331.60 96.82,331.31 97.55,330.99 98.27,330.64 98.99,330.26 99.72,329.84 100.44,329.38 101.17,328.88 101.89,328.34 102.61,327.76 103.34,327.14 104.06,326.47 104.78,325.76 105.51,325.00 106.23,324.19 106.95,323.34 107.68,322.45 108.40,321.51 109.13,320.53 109.85,319.51 110.57,318.46 111.30,317.37 112.02,316.26 112.74,315.12 113.47,313.96 114.19,312.79 114.91,311.60 115.64,310.42 116.36,309.23 117.08,308.06 117.81,306.91 118.53,305.78 119.26,304.69 119.98,303.63 120.70,302.62 121.43,301.66 122.15,300.77 122.87,299.94 123.60,299.19 124.32,298.51 125.04,297.92 125.77,297.42 126.49,297.02 127.21,296.71 127.94,296.50 128.66,296.39 129.39,296.38 130.11,296.48 130.83,296.68 131.56,296.97 132.28,297.37 133.00,297.85 133.73,298.43 134.45,299.09 135.17,299.84 135.90,300.66 136.62,301.54 137.35,302.49 138.07,303.50 138.79,304.55 139.52,305.64 140.24,306.76 140.96,307.91 141.69,309.08 142.41,310.26 143.13,311.45 143.86,312.63 144.58,313.81 145.30,314.97 146.03,316.11 146.75,317.23 147.48,318.32 148.20,319.38 148.92,320.40 149.65,321.39 150.37,322.33 151.09,323.23 151.82,324.08 152.54,324.90 153.26,325.66 153.99,326.38 154.71,327.06 155.43,327.69 156.16,328.27 156.88,328.82 157.61,329.32 158.33,329.78 159.05,330.21 159.78,330.59 160.50,330.95" fill="none" stroke="#a8242c" stroke-width="1.0"/>
<line x1="68.20" y1="333.80" x2="69.40" y2="333.80" stroke="#bdbdbd" stroke-width="0.6"/>
<text x="63.00" y="336.60" transform="rotate(0.05 63.0 336.6)" font-size="7.7" textLength="3.70" lengthAdjust="spacingAndGlyphs" fill="#262626">0</text>
<line x1="68.20" y1="305.27" x2="69.40" y2="305.27" stroke="#bdbdbd" stroke-width="0.6"/>
<text x="59.30" y="308.07" transform="rotate(0.05 59.3 308.1)" font-size="7.7" textLength="7.40" lengthAdjust="spacingAndGlyphs" fill="#262626">10</text>
<line x1="68.20" y1="276.75" x2="69.40" y2="276.75" stroke="#bdbdbd" stroke-width="0.6"/>
<text x="59.30" y="279.55" transform="rotate(0.05 59.3 279.6)" font-size="7.7" textLength="7.40" lengthAdjust="spacingAndGlyphs" fill="#262626">20</text>
<line x1="68.20" y1="248.22" x2="69.40" y2="248.22" stroke="#bdbdbd" stroke-width="0.6"/>
<text x="59.30" y="251.02" transform="rotate(0.05 59.3 251.0)" font-size="7.7" textLength="7.40" lengthAdjust="spacingAndGlyphs" fill="#262626">30</text>
<line x1="68.20" y1="219.70" x2="69.40" y2="219.70" stroke="#bdbdbd" stroke-width="0.6"/>
<text x="59.30" y="222.50" transform="rotate(0.05 59.3 222.5)" font-size="7.7" textLength="7.40" lengthAdjust="spacingAndGlyphs" fill="#262626">40</text>
<line x1="69.40" y1="333.80" x2="69.40" y2="335.00" stroke="#bdbdbd" stroke-width="0.6"/>
<text x="62.55" y="342.70" transform="rotate(0.05 62.6 342.7)" font-size="7.7" textLength="14.30" lengthAdjust="spacingAndGlyphs" fill="#262626">1470</text>
<line x1="87.62" y1="333.80" x2="87.62" y2="335.00" stroke="#bdbdbd" stroke-width="0.6"/>
<text x="80.77" y="342.70" transform="rotate(0.05 80.8 342.7)" font-size="7.7" textLength="14.30" lengthAdjust="spacingAndGlyphs" fill="#262626">1480</text>
<line x1="105.84" y1="333.80" x2="105.84" y2="335.00" stroke="#bdbdbd" stroke-width="0.6"/>
<text x="98.99" y="342.70" transform="rotate(0.05 99.0 342.7)" font-size="7.7" textLength="14.30" lengthAdjust="spacingAndGlyphs" fill="#262626">1490</text>
<line x1="124.06" y1="333.80" x2="124.06" y2="335.00" stroke="#bdbdbd" stroke-width="0.6"/>
<text x="117.21" y="342.70" transform="rotate(0.05 117.2 342.7)" font-size="7.7" textLength="14.30" lengthAdjust="spacingAndGlyphs" fill="#262626">1500</text>
<line x1="142.28" y1="333.80" x2="142.28" y2="335.00" stroke="#bdbdbd" stroke-width="0.6"/>
<text x="135.43" y="342.70" transform="rotate(0.05 135.4 342.7)" font-size="7.7" textLength="14.30" lengthAdjust="spacingAndGlyphs" fill="#262626">1510</text>
<line x1="160.50" y1="333.80" x2="160.50" y2="335.00" stroke="#bdbdbd" stroke-width="0.6"/>
<text x="153.65" y="342.70" transform="rotate(0.05 153.7 342.7)" font-size="7.7" textLength="14.30" lengthAdjust="spacingAndGlyphs" fill="#262626">1520</text>
<text x="111.00" y="215.60" transform="rotate(0.05 111.0 215.6)" font-size="5.9" textLength="8.50" lengthAdjust="spacingAndGlyphs" fill="#b5404e">LSL</text>
<text x="121.00" y="215.60" transform="rotate(0.05 121.0 215.6)" font-size="5.9" textLength="16.40" lengthAdjust="spacingAndGlyphs" fill="#2f7f58">Target</text>
<text x="137.90" y="215.60" transform="rotate(0.05 137.9 215.6)" font-size="5.9" textLength="8.80" lengthAdjust="spacingAndGlyphs" fill="#b5404e">USL</text>
<text x="25.50" y="225.40" transform="rotate(0.05 25.5 225.4)" font-size="6.4" textLength="17.20" lengthAdjust="spacingAndGlyphs" fill="#4a4a4a">Within</text>
<text x="17.10" y="232.60" transform="rotate(0.05 17.1 232.6)" font-size="6.4" textLength="6.90" lengthAdjust="spacingAndGlyphs" fill="#4a4a4a">Cp</text>
<text x="37.20" y="232.60" transform="rotate(0.05 37.2 232.6)" font-size="6.4" textLength="14.00" lengthAdjust="spacingAndGlyphs" fill="#4a4a4a">0.376</text>
<text x="17.10" y="239.97" transform="rotate(0.05 17.1 240.0)" font-size="6.4" textLength="9.40" lengthAdjust="spacingAndGlyphs" fill="#4a4a4a">CPL</text>
<text x="37.20" y="239.97" transform="rotate(0.05 37.2 240.0)" font-size="6.4" textLength="14.00" lengthAdjust="spacingAndGlyphs" fill="#4a4a4a">0.345</text>
<text x="17.10" y="247.34" transform="rotate(0.05 17.1 247.3)" font-size="6.4" textLength="10.40" lengthAdjust="spacingAndGlyphs" fill="#4a4a4a">CPU</text>
<text x="37.20" y="247.34" transform="rotate(0.05 37.2 247.3)" font-size="6.4" textLength="14.00" lengthAdjust="spacingAndGlyphs" fill="#4a4a4a">0.407</text>
<text x="17.10" y="254.71" transform="rotate(0.05 17.1 254.7)" font-size="6.4" textLength="9.70" lengthAdjust="spacingAndGlyphs" fill="#4a4a4a">Cpk</text>
<text x="37.20" y="254.71" transform="rotate(0.05 37.2 254.7)" font-size="6.4" textLength="14.00" lengthAdjust="spacingAndGlyphs" fill="#4a4a4a">0.345</text>
<line x1="171.20" y1="222.50" x2="186.00" y2="222.50" stroke="#d2787c" stroke-width="1.3"/>
<line x1="171.20" y1="230.30" x2="186.00" y2="230.30" stroke="#555" stroke-width="0.9" stroke-dasharray="4 1.5"/>
<text x="189.80" y="225.00" transform="rotate(0.05 189.8 225.0)" font-size="6.4" textLength="18.10" lengthAdjust="spacingAndGlyphs" fill="#4a4a4a">Overall</text>
<text x="189.80" y="232.80" transform="rotate(0.05 189.8 232.8)" font-size="6.4" textLength="17.00" lengthAdjust="spacingAndGlyphs" fill="#4a4a4a">Within</text>
<text x="183.95" y="245.90" transform="rotate(0.05 183.9 245.9)" font-size="6.4" textLength="18.10" lengthAdjust="spacingAndGlyphs" fill="#4a4a4a">Overall</text>
<text x="174.10" y="253.60" transform="rotate(0.05 174.1 253.6)" font-size="6.4" textLength="6.60" lengthAdjust="spacingAndGlyphs" fill="#4a4a4a">Pp</text>
<text x="197.10" y="253.60" transform="rotate(0.05 197.1 253.6)" font-size="6.4" textLength="13.90" lengthAdjust="spacingAndGlyphs" fill="#4a4a4a">0.132</text>
<text x="174.10" y="260.95" transform="rotate(0.05 174.1 260.9)" font-size="6.4" textLength="9.40" lengthAdjust="spacingAndGlyphs" fill="#4a4a4a">PPL</text>
<text x="197.10" y="260.95" transform="rotate(0.05 197.1 260.9)" font-size="6.4" textLength="13.90" lengthAdjust="spacingAndGlyphs" fill="#4a4a4a">0.121</text>
<text x="174.10" y="268.30" transform="rotate(0.05 174.1 268.3)" font-size="6.4" textLength="10.40" lengthAdjust="spacingAndGlyphs" fill="#4a4a4a">PPU</text>
<text x="197.10" y="268.30" transform="rotate(0.05 197.1 268.3)" font-size="6.4" textLength="13.90" lengthAdjust="spacingAndGlyphs" fill="#4a4a4a">0.143</text>
<text x="174.10" y="275.65" transform="rotate(0.05 174.1 275.6)" font-size="6.4" textLength="9.70" lengthAdjust="spacingAndGlyphs" fill="#4a4a4a">Ppk</text>
<text x="197.10" y="275.65" transform="rotate(0.05 197.1 275.6)" font-size="6.4" textLength="13.90" lengthAdjust="spacingAndGlyphs" fill="#4a4a4a">0.121</text>
<text x="174.10" y="283.00" transform="rotate(0.05 174.1 283.0)" font-size="6.4" textLength="11.80" lengthAdjust="spacingAndGlyphs" fill="#4a4a4a">Cpm</text>
<text x="197.10" y="283.00" transform="rotate(0.05 197.1 283.0)" font-size="6.4" textLength="13.90" lengthAdjust="spacingAndGlyphs" fill="#4a4a4a">0.132</text>
</g>
<g>
<text x="296.30" y="203.10" transform="rotate(0.05 296.3 203.1)" font-size="9.2" textLength="66.30" lengthAdjust="spacingAndGlyphs" fill="#3a3a3a">ATO+Axis trans</text>
<rect x="283.90" y="217.50" width="91.10" height="116.30" fill="#ffffff" stroke="#c9c9c9" stroke-width="0.8"/>
<line x1="302.12" y1="217.50" x2="302.12" y2="333.80" stroke="#f4f4f4" stroke-width="0.6"/>
<line x1="320.34" y1="217.50" x2="320.34" y2="333.80" stroke="#f4f4f4" stroke-width="0.6"/>
<line x1="338.56" y1="217.50" x2="338.56" y2="333.80" stroke="#f4f4f4" stroke-width="0.6"/>
<line x1="356.78" y1="217.50" x2="356.78" y2="333.80" stroke="#f4f4f4" stroke-width="0.6"/>
<line x1="283.90" y1="306.30" x2="375.00" y2="306.30" stroke="#f6f6f6" stroke-width="0.6"/>
<line x1="283.90" y1="278.80" x2="375.00" y2="278.80" stroke="#f6f6f6" stroke-width="0.6"/>
<line x1="283.90" y1="251.30" x2="375.00" y2="251.30" stroke="#f6f6f6" stroke-width="0.6"/>
<line x1="283.90" y1="223.80" x2="375.00" y2="223.80" stroke="#f6f6f6" stroke-width="0.6"/>
<line x1="338.50" y1="218.10" x2="338.50" y2="333.80" stroke="#ec6a82" stroke-width="1" stroke-dasharray="1.1 1.7"/>
<line x1="343.50" y1="218.10" x2="343.50" y2="333.80" stroke="#55c08c" stroke-width="1" stroke-dasharray="1.1 1.7"/>
<line x1="349.50" y1="218.10" x2="349.50" y2="333.80" stroke="#ec6a82" stroke-width="1" stroke-dasharray="1.1 1.7"/>
<rect x="340.84" y="305.75" width="4.56" height="28.05" fill="#74a1dc" stroke="#4b72b2" stroke-width="0.6"/>
<rect x="345.39" y="306.85" width="4.56" height="26.95" fill="#74a1dc" stroke="#4b72b2" stroke-width="0.6"/>
<polyline points="341.26,333.76 341.32,333.75 341.38,333.74 341.44,333.72 341.50,333.70 341.56,333.67 341.62,333.63 341.68,333.59 341.75,333.53 341.81,333.46 341.87,333.38 341.93,333.27 341.99,333.15 342.05,332.99 342.11,332.81 342.17,332.59 342.23,332.32 342.29,332.01 342.36,331.63 342.42,331.19 342.48,330.68 342.54,330.08 342.60,329.39 342.66,328.59 342.72,327.67 342.78,326.62 342.84,325.43 342.90,324.09 342.97,322.58 343.03,320.90 343.09,319.02 343.15,316.95 343.21,314.68 343.27,312.19 343.33,309.49 343.39,306.57 343.45,303.44 343.52,300.10 343.58,296.56 343.64,292.82 343.70,288.91 343.76,284.85 343.82,280.65 343.88,276.36 343.94,271.98 344.00,267.58 344.06,263.17 344.13,258.80 344.19,254.52 344.25,250.36 344.31,246.37 344.37,242.60 344.43,239.09 344.49,235.88 344.55,233.01 344.61,230.52 344.67,228.43 344.74,226.78 344.80,225.58 344.86,224.86 344.92,224.61 344.98,224.86 345.04,225.58 345.10,226.78 345.16,228.43 345.22,230.52 345.28,233.01 345.35,235.88 345.41,239.09 345.47,242.60 345.53,246.37 345.59,250.36 345.65,254.52 345.71,258.80 345.77,263.17 345.83,267.58 345.90,271.98 345.96,276.36 346.02,280.65 346.08,284.85 346.14,288.91 346.20,292.82 346.26,296.56 346.32,300.10 346.38,303.44 346.44,306.57 346.51,309.49 346.57,312.19 346.63,314.68 346.69,316.95 346.75,319.02 346.81,320.90 346.87,322.58 346.93,324.09 346.99,325.43 347.05,326.62 347.12,327.67 347.18,328.59 347.24,329.39 347.30,330.08 347.36,330.68 347.42,331.19 347.48,331.63 347.54,332.01 347.60,332.32 347.66,332.59 347.73,332.81 347.79,332.99 347.85,333.15 347.91,333.27 347.97,333.38 348.03,333.46 348.09,333.53 348.15,333.59 348.21,333.63 348.28,333.67 348.34,333.70 348.40,333.72 348.46,333.74 348.52,333.75 348.58,333.76" fill="none" stroke="#a8242c" stroke-width="1.0"/>
<line x1="282.70" y1="333.80" x2="283.90" y2="333.80" stroke="#bdbdbd" stroke-width="0.6"/>
<text x="277.50" y="336.60" transform="rotate(0.05 277.5 336.6)" font-size="7.7" textLength="3.70" lengthAdjust="spacingAndGlyphs" fill="#262626">0</text>
<line x1="282.70" y1="306.30" x2="283.90" y2="306.30" stroke="#bdbdbd" stroke-width="0.6"/>
<text x="273.80" y="309.10" transform="rotate(0.05 273.8 309.1)" font-size="7.7" textLength="7.40" lengthAdjust="spacingAndGlyphs" fill="#262626">50</text>
<line x1="282.70" y1="278.80" x2="283.90" y2="278.80" stroke="#bdbdbd" stroke-width="0.6"/>
<text x="270.10" y="281.60" transform="rotate(0.05 270.1 281.6)" font-size="7.7" textLength="11.10" lengthAdjust="spacingAndGlyphs" fill="#262626">100</text>
<line x1="282.70" y1="251.30" x2="283.90" y2="251.30" stroke="#bdbdbd" stroke-width="0.6"/>
<text x="270.10" y="254.10" transform="rotate(0.05 270.1 254.1)" font-size="7.7" textLength="11.10" lengthAdjust="spacingAndGlyphs" fill="#262626">150</text>
<line x1="282.70" y1="223.80" x2="283.90" y2="223.80" stroke="#bdbdbd" stroke-width="0.6"/>
<text x="270.10" y="226.60" transform="rotate(0.05 270.1 226.6)" font-size="7.7" textLength="11.10" lengthAdjust="spacingAndGlyphs" fill="#262626">200</text>
<line x1="283.90" y1="333.80" x2="283.90" y2="335.00" stroke="#bdbdbd" stroke-width="0.6"/>
<text x="277.05" y="342.70" transform="rotate(0.05 277.1 342.7)" font-size="7.7" textLength="14.30" lengthAdjust="spacingAndGlyphs" fill="#262626">1470</text>
<line x1="302.12" y1="333.80" x2="302.12" y2="335.00" stroke="#bdbdbd" stroke-width="0.6"/>
<text x="295.27" y="342.70" transform="rotate(0.05 295.3 342.7)" font-size="7.7" textLength="14.30" lengthAdjust="spacingAndGlyphs" fill="#262626">1480</text>
<line x1="320.34" y1="333.80" x2="320.34" y2="335.00" stroke="#bdbdbd" stroke-width="0.6"/>
<text x="313.49" y="342.70" transform="rotate(0.05 313.5 342.7)" font-size="7.7" textLength="14.30" lengthAdjust="spacingAndGlyphs" fill="#262626">1490</text>
<line x1="338.56" y1="333.80" x2="338.56" y2="335.00" stroke="#bdbdbd" stroke-width="0.6"/>
<text x="331.71" y="342.70" transform="rotate(0.05 331.7 342.7)" font-size="7.7" textLength="14.30" lengthAdjust="spacingAndGlyphs" fill="#262626">1500</text>
<line x1="356.78" y1="333.80" x2="356.78" y2="335.00" stroke="#bdbdbd" stroke-width="0.6"/>
<text x="349.93" y="342.70" transform="rotate(0.05 349.9 342.7)" font-size="7.7" textLength="14.30" lengthAdjust="spacingAndGlyphs" fill="#262626">1510</text>
<line x1="375.00" y1="333.80" x2="375.00" y2="335.00" stroke="#bdbdbd" stroke-width="0.6"/>
<text x="368.15" y="342.70" transform="rotate(0.05 368.2 342.7)" font-size="7.7" textLength="14.30" lengthAdjust="spacingAndGlyphs" fill="#262626">1520</text>
<text x="325.80" y="215.60" transform="rotate(0.05 325.8 215.6)" font-size="5.9" textLength="8.50" lengthAdjust="spacingAndGlyphs" fill="#b5404e">LSL</text>
<text x="335.00" y="215.60" transform="rotate(0.05 335.0 215.6)" font-size="5.9" textLength="16.40" lengthAdjust="spacingAndGlyphs" fill="#2f7f58">Target</text>
<text x="352.10" y="215.60" transform="rotate(0.05 352.1 215.6)" font-size="5.9" textLength="9.30" lengthAdjust="spacingAndGlyphs" fill="#b5404e">USL</text>
<text x="234.30" y="225.40" transform="rotate(0.05 234.3 225.4)" font-size="6.4" textLength="17.20" lengthAdjust="spacingAndGlyphs" fill="#4a4a4a">Within</text>
<text x="232.00" y="232.60" transform="rotate(0.05 232.0 232.6)" font-size="6.4" textLength="6.90" lengthAdjust="spacingAndGlyphs" fill="#4a4a4a">Cp</text>
<text x="251.90" y="233.40" transform="rotate(0.05 251.9 233.4)" font-size="6.4" fill="#4a4a4a">*</text>
<text x="232.00" y="239.97" transform="rotate(0.05 232.0 240.0)" font-size="6.4" textLength="9.40" lengthAdjust="spacingAndGlyphs" fill="#4a4a4a">CPL</text>
<text x="251.90" y="240.77" transform="rotate(0.05 251.9 240.8)" font-size="6.4" fill="#4a4a4a">*</text>
<text x="232.00" y="247.34" transform="rotate(0.05 232.0 247.3)" font-size="6.4" textLength="10.40" lengthAdjust="spacingAndGlyphs" fill="#4a4a4a">CPU</text>
<text x="251.90" y="248.14" transform="rotate(0.05 251.9 248.1)" font-size="6.4" fill="#4a4a4a">*</text>
<text x="232.00" y="254.71" transform="rotate(0.05 232.0 254.7)" font-size="6.4" textLength="9.70" lengthAdjust="spacingAndGlyphs" fill="#4a4a4a">Cpk</text>
<text x="251.90" y="255.51" transform="rotate(0.05 251.9 255.5)" font-size="6.4" fill="#4a4a4a">*</text>
<line x1="386.70" y1="222.50" x2="401.50" y2="222.50" stroke="#d2787c" stroke-width="1.3"/>
<line x1="386.70" y1="230.30" x2="401.50" y2="230.30" stroke="#555" stroke-width="0.9" stroke-dasharray="4 1.5"/>
<text x="405.30" y="225.00" transform="rotate(0.05 405.3 225.0)" font-size="6.4" textLength="18.10" lengthAdjust="spacingAndGlyphs" fill="#4a4a4a">Overall</text>
<text x="405.30" y="232.80" transform="rotate(0.05 405.3 232.8)" font-size="6.4" textLength="17.00" lengthAdjust="spacingAndGlyphs" fill="#4a4a4a">Within</text>
<text x="398.45" y="245.90" transform="rotate(0.05 398.4 245.9)" font-size="6.4" textLength="18.10" lengthAdjust="spacingAndGlyphs" fill="#4a4a4a">Overall</text>
<text x="389.80" y="253.60" transform="rotate(0.05 389.8 253.6)" font-size="6.4" textLength="6.60" lengthAdjust="spacingAndGlyphs" fill="#4a4a4a">Pp</text>
<text x="411.60" y="253.60" transform="rotate(0.05 411.6 253.6)" font-size="6.4" textLength="13.90" lengthAdjust="spacingAndGlyphs" fill="#4a4a4a">1.990</text>
<text x="389.80" y="260.95" transform="rotate(0.05 389.8 260.9)" font-size="6.4" textLength="9.40" lengthAdjust="spacingAndGlyphs" fill="#4a4a4a">PPL</text>
<text x="411.60" y="260.95" transform="rotate(0.05 411.6 260.9)" font-size="6.4" textLength="13.90" lengthAdjust="spacingAndGlyphs" fill="#4a4a4a">2.315</text>
<text x="389.80" y="268.30" transform="rotate(0.05 389.8 268.3)" font-size="6.4" textLength="10.40" lengthAdjust="spacingAndGlyphs" fill="#4a4a4a">PPU</text>
<text x="411.60" y="268.30" transform="rotate(0.05 411.6 268.3)" font-size="6.4" textLength="13.90" lengthAdjust="spacingAndGlyphs" fill="#4a4a4a">1.665</text>
<text x="389.80" y="275.65" transform="rotate(0.05 389.8 275.6)" font-size="6.4" textLength="9.70" lengthAdjust="spacingAndGlyphs" fill="#4a4a4a">Ppk</text>
<text x="411.60" y="275.65" transform="rotate(0.05 411.6 275.6)" font-size="6.4" textLength="13.90" lengthAdjust="spacingAndGlyphs" fill="#4a4a4a">1.665</text>
<text x="389.80" y="283.00" transform="rotate(0.05 389.8 283.0)" font-size="6.4" textLength="11.80" lengthAdjust="spacingAndGlyphs" fill="#4a4a4a">Cpm</text>
<text x="411.60" y="283.00" transform="rotate(0.05 411.6 283.0)" font-size="6.4" textLength="13.90" lengthAdjust="spacingAndGlyphs" fill="#4a4a4a">1.429</text>
</g>
<rect x="190.4" y="170.4" width="73.4" height="38.0" fill="#ffffff" stroke="#ff0000" stroke-width="2"/>
<text x="194.60" y="200.60" transform="rotate(0.05 194.6 200.6)" font-size="30.5" font-weight="bold" textLength="64.80" lengthAdjust="spacingAndGlyphs" fill="#000000">1503</text>
<rect x="11" y="357" width="25.6" height="7.4" fill="#f2f2f2"/>
<path d="M11 364.4 V357 H36.6" stroke="#fbfbfb" stroke-width="0.7" fill="none"/>
<path d="M11 364.4 H36.6 V357" stroke="#8e8e8e" stroke-width="0.8" fill="none"/>
<text x="20.20" y="362.10" transform="rotate(0.05 20.2 362.1)" font-size="4.5" textLength="7.20" lengthAdjust="spacingAndGlyphs" fill="#1a1a1a">Help</text>
<rect x="380.4" y="357" width="25" height="7.4" fill="#f2f2f2"/>
<path d="M380.4 364.4 V357 H405.4" stroke="#fbfbfb" stroke-width="0.7" fill="none"/>
<path d="M380.4 364.4 H405.4 V357" stroke="#8e8e8e" stroke-width="0.8" fill="none"/>
<text x="390.50" y="362.10" transform="rotate(0.05 390.5 362.1)" font-size="4.5" textLength="4.80" lengthAdjust="spacingAndGlyphs" fill="#1a1a1a">OK</text>
<rect x="410.3" y="357" width="25.2" height="7.4" fill="#f2f2f2"/>
<path d="M410.3 364.4 V357 H435.5" stroke="#fbfbfb" stroke-width="0.7" fill="none"/>
<path d="M410.3 364.4 H435.5 V357" stroke="#8e8e8e" stroke-width="0.8" fill="none"/>
<text x="417.50" y="362.10" transform="rotate(0.05 417.5 362.1)" font-size="4.5" textLength="10.80" lengthAdjust="spacingAndGlyphs" fill="#1a1a1a">Cancel</text>
<text x="11.60" y="377.60" transform="rotate(0.05 11.6 377.6)" font-size="11" textLength="63.30" lengthAdjust="spacingAndGlyphs" fill="#1c72c0" stroke="#1c72c0" stroke-width="0.35">Process Data</text>
<text x="13.10" y="396.20" transform="rotate(0.05 13.1 396.2)" font-size="8.6" font-weight="bold" textLength="32.90" lengthAdjust="spacingAndGlyphs" fill="#262626">Variable</text>
<text x="99.20" y="396.20" transform="rotate(0.05 99.2 396.2)" font-size="8.6" font-weight="bold" textLength="12.70" lengthAdjust="spacingAndGlyphs" fill="#262626">LSL</text>
<text x="122.70" y="396.20" transform="rotate(0.05 122.7 396.2)" font-size="8.6" font-weight="bold" textLength="24.40" lengthAdjust="spacingAndGlyphs" fill="#262626">Target</text>
<text x="161.70" y="396.20" transform="rotate(0.05 161.7 396.2)" font-size="8.6" font-weight="bold" textLength="14.50" lengthAdjust="spacingAndGlyphs" fill="#262626">USL</text>
<text x="187.30" y="396.20" transform="rotate(0.05 187.3 396.2)" font-size="8.6" font-weight="bold" textLength="55.00" lengthAdjust="spacingAndGlyphs" fill="#262626">Sample Mean</text>
<text x="253.60" y="396.20" transform="rotate(0.05 253.6 396.2)" font-size="8.6" font-weight="bold" textLength="39.40" lengthAdjust="spacingAndGlyphs" fill="#262626">Sample N</text>
<text x="303.60" y="396.20" transform="rotate(0.05 303.6 396.2)" font-size="8.6" font-weight="bold" textLength="56.50" lengthAdjust="spacingAndGlyphs" fill="#262626">StDev(Within)</text>
<text x="370.50" y="396.20" transform="rotate(0.05 370.5 396.2)" font-size="8.6" font-weight="bold" textLength="57.70" lengthAdjust="spacingAndGlyphs" fill="#262626">StDev(Overall)</text>
<rect x="11" y="398.8" width="419.6" height="1" fill="#5a5a5a"/>
<text x="13.10" y="409.20" transform="rotate(0.05 13.1 409.2)" font-size="8.4" textLength="56.70" lengthAdjust="spacingAndGlyphs" fill="#262626">ATAN+B-EMF a</text>
<text x="94.10" y="409.20" transform="rotate(0.05 94.1 409.2)" font-size="8.4" textLength="17.80" lengthAdjust="spacingAndGlyphs" fill="#262626">1500</text>
<text x="129.30" y="409.20" transform="rotate(0.05 129.3 409.2)" font-size="8.4" textLength="17.80" lengthAdjust="spacingAndGlyphs" fill="#262626">1503</text>
<text x="158.40" y="409.20" transform="rotate(0.05 158.4 409.2)" font-size="8.4" textLength="17.80" lengthAdjust="spacingAndGlyphs" fill="#262626">1506</text>
<text x="212.50" y="409.20" transform="rotate(0.05 212.5 409.2)" font-size="8.4" textLength="29.80" lengthAdjust="spacingAndGlyphs" fill="#262626">1496.46</text>
<text x="279.80" y="409.20" transform="rotate(0.05 279.8 409.2)" font-size="8.4" textLength="13.20" lengthAdjust="spacingAndGlyphs" fill="#262626">100</text>
<text x="330.20" y="409.20" transform="rotate(0.05 330.2 409.2)" font-size="8.4" textLength="29.90" lengthAdjust="spacingAndGlyphs" fill="#262626">0.00000</text>
<text x="399.40" y="409.20" transform="rotate(0.05 399.4 409.2)" font-size="8.4" textLength="28.80" lengthAdjust="spacingAndGlyphs" fill="#262626">11.2262</text>
<text x="13.10" y="422.50" transform="rotate(0.05 13.1 422.5)" font-size="8.4" textLength="63.80" lengthAdjust="spacingAndGlyphs" fill="#262626">ATAN+Axis trans</text>
<text x="94.10" y="422.50" transform="rotate(0.05 94.1 422.5)" font-size="8.4" textLength="17.80" lengthAdjust="spacingAndGlyphs" fill="#262626">1500</text>
<text x="129.30" y="422.50" transform="rotate(0.05 129.3 422.5)" font-size="8.4" textLength="17.80" lengthAdjust="spacingAndGlyphs" fill="#262626">1503</text>
<text x="158.40" y="422.50" transform="rotate(0.05 158.4 422.5)" font-size="8.4" textLength="17.80" lengthAdjust="spacingAndGlyphs" fill="#262626">1506</text>
<text x="212.50" y="422.50" transform="rotate(0.05 212.5 422.5)" font-size="8.4" textLength="29.80" lengthAdjust="spacingAndGlyphs" fill="#262626">1500.35</text>
<text x="279.80" y="422.50" transform="rotate(0.05 279.8 422.5)" font-size="8.4" textLength="13.20" lengthAdjust="spacingAndGlyphs" fill="#262626">100</text>
<text x="330.20" y="422.50" transform="rotate(0.05 330.2 422.5)" font-size="8.4" textLength="29.90" lengthAdjust="spacingAndGlyphs" fill="#262626">5.31736</text>
<text x="403.40" y="422.50" transform="rotate(0.05 403.4 422.5)" font-size="8.4" textLength="24.80" lengthAdjust="spacingAndGlyphs" fill="#262626">4.5955</text>
<text x="13.10" y="435.80" transform="rotate(0.05 13.1 435.8)" font-size="8.4" textLength="51.70" lengthAdjust="spacingAndGlyphs" fill="#262626">ATO+B-EMF a</text>
<text x="94.10" y="435.80" transform="rotate(0.05 94.1 435.8)" font-size="8.4" textLength="17.80" lengthAdjust="spacingAndGlyphs" fill="#262626">1500</text>
<text x="129.30" y="435.80" transform="rotate(0.05 129.3 435.8)" font-size="8.4" textLength="17.80" lengthAdjust="spacingAndGlyphs" fill="#262626">1503</text>
<text x="158.40" y="435.80" transform="rotate(0.05 158.4 435.8)" font-size="8.4" textLength="17.80" lengthAdjust="spacingAndGlyphs" fill="#262626">1506</text>
<text x="212.50" y="435.80" transform="rotate(0.05 212.5 435.8)" font-size="8.4" textLength="29.80" lengthAdjust="spacingAndGlyphs" fill="#262626">1502.75</text>
<text x="279.80" y="435.80" transform="rotate(0.05 279.8 435.8)" font-size="8.4" textLength="13.20" lengthAdjust="spacingAndGlyphs" fill="#262626">100</text>
<text x="330.20" y="435.80" transform="rotate(0.05 330.2 435.8)" font-size="8.4" textLength="29.90" lengthAdjust="spacingAndGlyphs" fill="#262626">2.65868</text>
<text x="403.40" y="435.80" transform="rotate(0.05 403.4 435.8)" font-size="8.4" textLength="24.80" lengthAdjust="spacingAndGlyphs" fill="#262626">7.6017</text>
<text x="13.10" y="449.10" transform="rotate(0.05 13.1 449.1)" font-size="8.4" textLength="58.80" lengthAdjust="spacingAndGlyphs" fill="#262626">ATO+Axis trans</text>
<text x="94.10" y="449.10" transform="rotate(0.05 94.1 449.1)" font-size="8.4" textLength="17.80" lengthAdjust="spacingAndGlyphs" fill="#262626">1500</text>
<text x="129.30" y="449.10" transform="rotate(0.05 129.3 449.1)" font-size="8.4" textLength="17.80" lengthAdjust="spacingAndGlyphs" fill="#262626">1503</text>
<text x="158.40" y="449.10" transform="rotate(0.05 158.4 449.1)" font-size="8.4" textLength="17.80" lengthAdjust="spacingAndGlyphs" fill="#262626">1506</text>
<text x="212.50" y="449.10" transform="rotate(0.05 212.5 449.1)" font-size="8.4" textLength="29.80" lengthAdjust="spacingAndGlyphs" fill="#262626">1503.49</text>
<text x="279.80" y="449.10" transform="rotate(0.05 279.8 449.1)" font-size="8.4" textLength="13.20" lengthAdjust="spacingAndGlyphs" fill="#262626">100</text>
<text x="330.20" y="449.10" transform="rotate(0.05 330.2 449.1)" font-size="8.4" textLength="29.90" lengthAdjust="spacingAndGlyphs" fill="#262626">0.00000</text>
<text x="403.40" y="449.10" transform="rotate(0.05 403.4 449.1)" font-size="8.4" textLength="24.80" lengthAdjust="spacingAndGlyphs" fill="#262626">0.5024</text>
<rect x="11" y="454.2" width="419.6" height="0.6" fill="#ececec"/>
<text x="11.60" y="467.60" transform="rotate(0.05 11.6 467.6)" font-size="11" textLength="115.00" lengthAdjust="spacingAndGlyphs" fill="#1c72c0" stroke="#1c72c0" stroke-width="0.35">Observed Performance</text>
<text x="13.10" y="486.40" transform="rotate(0.05 13.1 486.4)" font-size="8.6" font-weight="bold" textLength="32.90" lengthAdjust="spacingAndGlyphs" fill="#262626">Variable</text>
<text x="93.40" y="486.40" transform="rotate(0.05 93.4 486.4)" font-size="8.6" font-weight="bold" textLength="31.40" lengthAdjust="spacingAndGlyphs" fill="#262626">% &lt; LSL</text>
<text x="136.10" y="486.40" transform="rotate(0.05 136.1 486.4)" font-size="8.6" font-weight="bold" textLength="33.70" lengthAdjust="spacingAndGlyphs" fill="#262626">% &gt; USL</text>
<text x="181.10" y="486.40" transform="rotate(0.05 181.1 486.4)" font-size="8.6" font-weight="bold" textLength="28.60" lengthAdjust="spacingAndGlyphs" fill="#262626">% Total</text>
<rect x="11" y="488.8" width="200.7" height="1" fill="#5a5a5a"/>
<text x="13.10" y="499.40" transform="rotate(0.05 13.1 499.4)" font-size="8.4" textLength="56.70" lengthAdjust="spacingAndGlyphs" fill="#262626">ATAN+B-EMF a</text>
<text x="104.60" y="499.40" transform="rotate(0.05 104.6 499.4)" font-size="8.4" textLength="20.20" lengthAdjust="spacingAndGlyphs" fill="#262626">56.00</text>
<text x="149.60" y="499.40" transform="rotate(0.05 149.6 499.4)" font-size="8.4" textLength="20.20" lengthAdjust="spacingAndGlyphs" fill="#262626">25.00</text>
<text x="189.50" y="499.40" transform="rotate(0.05 189.5 499.4)" font-size="8.4" textLength="20.20" lengthAdjust="spacingAndGlyphs" fill="#262626">81.00</text>
<text x="13.10" y="512.70" transform="rotate(0.05 13.1 512.7)" font-size="8.4" textLength="63.80" lengthAdjust="spacingAndGlyphs" fill="#262626">ATAN+Axis trans</text>
<text x="104.60" y="512.70" transform="rotate(0.05 104.6 512.7)" font-size="8.4" textLength="20.20" lengthAdjust="spacingAndGlyphs" fill="#262626">46.00</text>
<text x="154.10" y="512.70" transform="rotate(0.05 154.1 512.7)" font-size="8.4" textLength="15.70" lengthAdjust="spacingAndGlyphs" fill="#262626">7.00</text>
<text x="189.50" y="512.70" transform="rotate(0.05 189.5 512.7)" font-size="8.4" textLength="20.20" lengthAdjust="spacingAndGlyphs" fill="#262626">53.00</text>
<text x="13.10" y="526.00" transform="rotate(0.05 13.1 526.0)" font-size="8.4" textLength="51.70" lengthAdjust="spacingAndGlyphs" fill="#262626">ATO+B-EMF a</text>
<text x="104.60" y="526.00" transform="rotate(0.05 104.6 526.0)" font-size="8.4" textLength="20.20" lengthAdjust="spacingAndGlyphs" fill="#262626">37.00</text>
<text x="149.60" y="526.00" transform="rotate(0.05 149.6 526.0)" font-size="8.4" textLength="20.20" lengthAdjust="spacingAndGlyphs" fill="#262626">36.00</text>
<text x="189.50" y="526.00" transform="rotate(0.05 189.5 526.0)" font-size="8.4" textLength="20.20" lengthAdjust="spacingAndGlyphs" fill="#262626">73.00</text>
<text x="13.10" y="539.30" transform="rotate(0.05 13.1 539.3)" font-size="8.4" textLength="58.80" lengthAdjust="spacingAndGlyphs" fill="#262626">ATO+Axis trans</text>
<text x="109.10" y="539.30" transform="rotate(0.05 109.1 539.3)" font-size="8.4" textLength="15.70" lengthAdjust="spacingAndGlyphs" fill="#262626">0.00</text>
<text x="154.10" y="539.30" transform="rotate(0.05 154.1 539.3)" font-size="8.4" textLength="15.70" lengthAdjust="spacingAndGlyphs" fill="#262626">0.00</text>
<text x="194.00" y="539.30" transform="rotate(0.05 194.0 539.3)" font-size="8.4" textLength="15.70" lengthAdjust="spacingAndGlyphs" fill="#262626">0.00</text>
</svg>
</body></html>
